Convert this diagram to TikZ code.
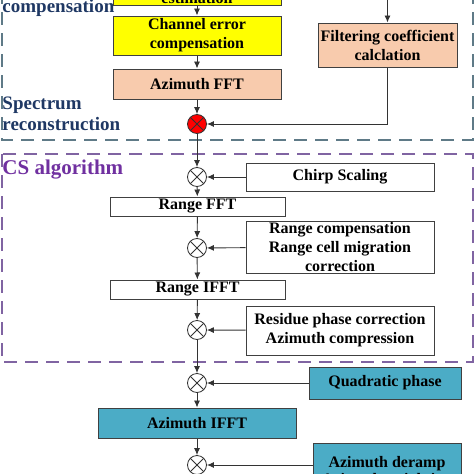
\documentclass[tikz,border=0pt]{standalone}
\usepackage{fontspec}
\setmainfont{Liberation Serif}
\usepackage{tikz}
\usetikzlibrary{arrows.meta}

\definecolor{boxyellow}{HTML}{FFFF00}
\definecolor{boxpeach}{HTML}{F8CBAD}
\definecolor{boxteal}{HTML}{4BACC6}
\definecolor{navytext}{HTML}{1F3864}
\definecolor{purpletext}{HTML}{7030A0}
\definecolor{graydash}{HTML}{5F7A87}
\definecolor{purpledash}{HTML}{8064A2}

\tikzset{
  blk/.style={draw=black!75, line width=1pt, font=\fontsize{16}{19}\selectfont\bfseries,
    align=center, inner sep=0pt},
  ybox/.style={blk, fill=boxyellow},
  pbox/.style={blk, fill=boxpeach},
  tbox/.style={blk, fill=boxteal},
  wbox/.style={blk, fill=white},
  mult/.style={circle, draw=black!80, line width=0.8pt, fill=white, minimum size=19pt,
    inner sep=0pt, path picture={
      \draw[black!80, line width=0.8pt]
        (path picture bounding box.north west) -- (path picture bounding box.south east)
        (path picture bounding box.north east) -- (path picture bounding box.south west);}},
  lbl/.style={font=\fontsize{19}{21}\selectfont\bfseries, text=navytext, align=left, inner sep=0pt},
}

\begin{document}
\begin{tikzpicture}[>={Latex[length=7pt,width=6pt]}, x=1pt, y=-1pt, line width=0.9pt, draw=black!80]
	  \useasboundingbox (0,0) rectangle (474,474);
	  \clip (0,0) rectangle (474,474);
	  % dashed frames
	  \draw[graydash, line width=2pt, dash pattern=on 13pt off 8pt] (2,-30) rectangle (473,140);
	  \draw[purpledash, line width=2pt, dash pattern=on 13pt off 8pt] (2,154) rectangle (473,362);
	  \node[lbl, anchor=base west] (lcomp) at (2,12.5) {compensation};
	  \node[lbl, anchor=base west] (lspec) at (2,130.5) {Spectrum\\reconstruction};
	  \node[lbl, anchor=base west, text=purpletext, font=\fontsize{21}{24}\selectfont\bfseries] (lcs) at (2,174) {CS algorithm};
	  % channel error part
	  \node[ybox, minimum width=168pt, text height=30pt, text depth=2pt, anchor=south] (est) at (197,6) {estimation};
	  \node[ybox, minimum width=168pt, minimum height=39pt] (chan) at (197,35.5) {Channel error\\compensation};
	  \node[pbox, minimum width=168pt, minimum height=30pt] (afft) at (197,84) {Azimuth FFT};
	  \node[pbox, minimum width=139pt, minimum height=44pt] (filt) at (387.5,45) {Filtering coefficient\\calclation};
	  \node[mult, fill=red] (c0) at (197,124) {};
	  \coordinate (ftop) at (387.5,-10);
	  % CS algorithm
	  \node[mult] (c1) at (197,177) {};
	  \node[wbox, minimum width=188pt, minimum height=28pt] (chirp) at (340,177) {Chirp Scaling};
	  \node[wbox, minimum width=175pt, minimum height=19pt] (rfft) at (197.5,206.5) {Range FFT};
	  \node[mult] (c2) at (197,248) {};
	  \node[wbox, minimum width=188pt, minimum height=52pt] (rcomp) at (340,247) {Range compensation\\Range cell migration\\correction};
	  \node[wbox, minimum width=175pt, minimum height=19pt] (rifft) at (197.5,289.5) {Range IFFT};
	  \node[mult] (c3) at (197,330) {};
	  \node[wbox, minimum width=188pt, minimum height=49pt] (resid) at (340,330.5) {Residue phase correction\\Azimuth compression};
	  % azimuth part
	  \node[mult] (c4) at (197,383) {};
	  \node[tbox, minimum width=152pt, minimum height=32pt] (quad) at (385,383) {Quadratic phase};
	  \node[tbox, minimum width=198pt, minimum height=30pt] (aifft) at (197,423) {Azimuth IFFT};
	  \node[mult] (c5) at (197,465) {};
	  \node[tbox, minimum width=148pt, minimum height=57.5pt, font=\fontsize{16}{17}\selectfont\bfseries] (deramp) at (387,471.75) {Azimuth deramp\\Azimuth weighting};
	  \coordinate (cbot) at (197,490);
	  % connectors
	  \draw[->] (est) -- (chan);
	  \draw[->] (chan) -- (afft);
	  \draw[->] (afft) -- (c0);
	  \draw[->] (ftop) -- (filt);
	  \draw[->] (filt) |- (c0);
	  \draw[->] (c0) -- (c1);
	  \draw[->] (chirp) -- (c1);
	  \draw[->] (c1) -- (rfft);
	  \draw[->] (rfft) -- (c2);
	  \draw[->] (rcomp) -- (c2);
	  \draw[->] (c2) -- (rifft);
	  \draw[->] (rifft) -- (c3);
	  \draw[->] (resid) -- (c3);
	  \draw[->] (c3) -- (c4);
	  \draw[->] (quad) -- (c4);
	  \draw[->] (c4) -- (aifft);
	  \draw[->] (aifft) -- (c5);
	  \draw[->] (deramp.west |- c5) -- (c5);
	  \draw (c5) -- (cbot);
	\end{tikzpicture}
\end{document}
